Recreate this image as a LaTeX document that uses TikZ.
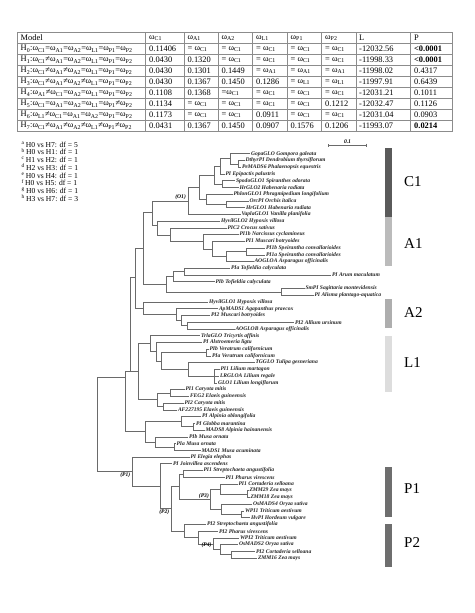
\documentclass[tikz,border=0pt]{standalone}
\usepackage{fontspec}
\setmainfont{Liberation Serif}
\usetikzlibrary{arrows.meta,positioning}
\definecolor{TreeGray}{HTML}{6A6A6A}
\definecolor{RuleGray}{HTML}{8C8C8C}
\definecolor{BarCone}{HTML}{5A5A5A}
\definecolor{BarAone}{HTML}{BBBBBB}
\definecolor{BarAtwo}{HTML}{AEAEAE}
\definecolor{BarLone}{HTML}{DDDDDD}
\definecolor{BarP}{HTML}{6E6E6E}
\newcommand{\om}[1]{ω\textsubscript{#1}}
\tikzset{
  leaf/.style={
    anchor=west,
    inner sep=0.8pt,
    font=\fontsize{5.6}{6}\selectfont\bfseries\itshape,
    text=black!85
  },
  branch/.style={
    draw=TreeGray,
    line width=0.55pt
  },
  cell/.style={
    anchor=west,
    inner sep=0pt,
    font=\fontsize{8.4}{9}\selectfont
  },
  tablerule/.style={
    draw=RuleGray,
    line width=0.7pt
  },
  note/.style={
    anchor=west,
    inner sep=0pt,
    font=\fontsize{7.6}{8}\selectfont
  },
  clade/.style={
    anchor=west,
    inner sep=0pt,
    font=\fontsize{15}{15}\selectfont
  },
  nodelabel/.style={
    inner sep=0.4pt,
    font=\fontsize{5.6}{6}\selectfont\bfseries\itshape
  }
}

\begin{document}
\begin{tikzpicture}[x=1pt,y=-1pt]

  \fill[white] (0,0) rectangle (474,613);
  \useasboundingbox (0,0) rectangle (474,613);

  % table
  \draw[tablerule] (17.3,32) rectangle (452.7,131);
  \foreach \yr in {43,54,...,120} {
    \draw[tablerule] (17.3,\yr) -- (452.7,\yr);
  }
  \foreach \xc in {145.7,184.3,218.3,252.7,287.3,321.7,356,410.7} {
    \draw[tablerule] (\xc,32) -- (\xc,131);
  }

  \node[cell] (headModel) at (20.5,37.8) {Model};
  \node[cell] (headC) at (149,37.8) {\om{C1}};
  \node[cell] (headA) at (187.5,37.8) {\om{A1}};
  \node[cell] (headB) at (221.5,37.8) {\om{A2}};
  \node[cell] (headL) at (256,37.8) {\om{L1}};
  \node[cell] (headP) at (290.5,37.8) {\om{P1}};
  \node[cell] (headQ) at (325,37.8) {\om{P2}};
  \node[cell] (headLnl) at (359,37.8) {L};
  \node[cell] (headPval) at (414,37.8) {P};

  \foreach \mdl/\wA/\wB/\wC/\wD/\wE/\wF/\lnl/\pval [count=\r] in {
    {H\textsubscript{0}:\om{C1}=\om{A1}=\om{A2}=\om{L1}=\om{P1}=\om{P2}}/0.11406/{= \om{C1}}/{= \om{C1}}/{= \om{C1}}/{= \om{C1}}/{= \om{C1}}/-12032.56/{\textbf{<0.0001}},
    {H\textsubscript{1}:\om{C1}≠\om{A1}=\om{A2}=\om{L1}=\om{P1}=\om{P2}}/0.0430/0.1320/{= \om{C1}}/{= \om{C1}}/{= \om{C1}}/{= \om{C1}}/-11998.33/{\textbf{<0.0001}},
    {H\textsubscript{2}:\om{C1}≠\om{A1}≠\om{A2}=\om{L1}=\om{P1}=\om{P2}}/0.0430/0.1301/0.1449/{= \om{A1}}/{= \om{A1}}/{= \om{A1}}/-11998.02/0.4317,
    {H\textsubscript{3}:\om{C1}≠\om{A1}≠\om{A2}≠\om{L1}=\om{P1}=\om{P2}}/0.0430/0.1367/0.1450/0.1286/{= \om{L1}}/{= \om{L1}}/-11997.91/0.6439,
    {H\textsubscript{4}:\om{A1}≠\om{C1}=\om{A2}=\om{L1}=\om{P1}=\om{P2}}/0.1108/0.1368/{=\om{C1}}/{= \om{C1}}/{= \om{C1}}/{= \om{C1}}/-12031.21/0.1011,
    {H\textsubscript{5}:\om{C1}=\om{A1}=\om{A2}=\om{L1}=\om{P1}≠\om{P2}}/0.1134/{= \om{C1}}/{= \om{C1}}/{= \om{C1}}/{= \om{C1}}/0.1212/-12032.47/0.1126,
    {H\textsubscript{6}:\om{L1}≠\om{C1}=\om{A1}=\om{A2}=\om{P1}=\om{P2}}/0.1173/{= \om{C1}}/{= \om{C1}}/0.0911/{= \om{C1}}/{= \om{C1}}/-12031.04/0.0903,
    {H\textsubscript{7}:\om{C1}≠\om{A1}≠\om{A2}≠\om{L1}≠\om{P1}≠\om{P2}}/0.0431/0.1367/0.1450/0.0907/0.1576/0.1206/-11993.07/{\textbf{0.0214}}} {
    \node[cell] (model\r) at (20.5,{37.8+11*\r}) {\mdl};
    \node[cell] (wc\r) at (149,{37.8+11*\r}) {\wA};
    \node[cell] (wa\r) at (187.5,{37.8+11*\r}) {\wB};
    \node[cell] (wb\r) at (221.5,{37.8+11*\r}) {\wC};
    \node[cell] (wl\r) at (256,{37.8+11*\r}) {\wD};
    \node[cell] (wp\r) at (290.5,{37.8+11*\r}) {\wE};
    \node[cell] (wq\r) at (325,{37.8+11*\r}) {\wF};
    \node[cell] (lnl\r) at (359,{37.8+11*\r}) {\lnl};
    \node[cell] (pval\r) at (414,{37.8+11*\r}) {\pval};
  }

  % test notes
  \foreach \lt/\txt [count=\n from 0] in {
    a/H0 vs H7: df = 5,
    b/H0 vs H1: df = 1,
    c/H1 vs H2: df = 1,
    d/H2 vs H3: df = 1,
    e/H0 vs H4: df = 1,
    f/H0 vs H5: df = 1,
    g/H0 vs H6: df = 1,
    h/H3 vs H7: df = 3} {
    \node[note] (note\lt) at (21.5,{144.6+7.75*\n}) {\smash{\textsuperscript{\lt}}\,\txt};
  }

  % leaves
  \foreach \name/\tip/\txt [count=\i from 0] in {
    gopa/250/GopaGLO Gompora galeata,
    dthyr/244.5/DthyrPI Dendrobium thyrsiflorum,
    pemads/241/PeMADS6 Phalaenopsis equestris,
    epip/224.5/PI Epipactis palustris,
    spodo/235/SpodoGLO1 Spiranthes odorata,
    hrglotwo/238.5/HrGLO2 Habenaria radiata,
    phlon/232.5/PhlonGLO1 Phragmipedium longifolium,
    orcpi/248.5/OrcPI Orchis italica,
    hrgloone/245/HrGLO1 Habenaria radiata,
    vapla/240.5/VaplaGLO1 Vanilla planifolia,
    hyviltwo/220/HyvilGLO2 Hypoxis villosa,
    crocus/226.5/PIC2 Crocus sativus,
    narc/238.5/PI1b Narcissus cyclamineus,
    muscone/244.5/PI1 Muscari botryoides,
    speirb/265/PI1b Speirantha convallarioides,
    speira/265/PI1a Speirantha convallarioides,
    aogloa/253.5/AOGLOA Asparagus officinalis,
    tofa/230/PIa Tofieldia calyculata,
    arum/331/PI Arum maculatum,
    tofb/214.5/PIb Tofieldia calyculata,
    smpi/304.5/SmPI Sagittaria montevidensis,
    alisma/313.5/PI Alisma plantago-aquatica,
    hyvilone/208/HyvilGLO1 Hypoxis villosa,
    apmads/218/ApMADS1 Agapanthus praecox,
    musctwo/210/PI2 Muscari botryoides,
    allium/294/PI2 Allium ursinum,
    aoglob/234.5/AOGLOB Asparagus officinalis,
    trla/200/TrlaGLO Tricyrtis affinis,
    alst/202/PI Alstroemeria ligtu,
    verb/208.5/PIb Veratrum californicum,
    vera/211/PIa Veratrum californicum,
    tgglo/254.5/TGGLO Tulipa gesneriana,
    lilone/219.5/PI1 Lilium martagon,
    lrgloa/219/LRGLOA Lilium regale,
    glo/217/GLO1 Lilium longiflorum,
    carone/184.5/PI1 Caryota mitis,
    feg/189/FEG2 Elaeis guineensis,
    cartwo/183.5/PI2 Caryota mitis,
    afel/177/AF227195 Elaeis guineensis,
    alpob/201/PI Alpinia oblongifolia,
    globba/195/PI Globba marantina,
    madseight/204.5/MADS8 Alpinia hainanensis,
    musab/188/PIb Musa ornata,
    musaa/175.5/PIa Musa ornata,
    madsone/200.5/MADS1 Musa acuminata,
    elegia/189.5/PI Elegia elephas,
    joinv/172/PI Joinvillea ascendens,
    strepone/202.5/PI1 Streptochaeta angustifolia,
    pharone/224.5/PI1 Pharus virescens,
    cortone/237.5/PI1 Cortaderia selloana,
    zmmtn/248.5/ZMM29 Zea mays,
    zmmet/249.5/ZMM18 Zea mays,
    osfour/252/OsMADS4 Oryza sativa,
    wpione/244/WPI1 Triticum aestivum,
    hvpi/250/HvPI Hordeum vulgare,
    streptwo/206/PI2 Streptochaeta angustifolia,
    phartwo/218/PI2 Pharus virescens,
    wpitwo/239/WPI2 Triticum aestivum,
    ostwo/238/OsMADS2 Oryza sativa,
    corttwo/255/PI2 Cortaderia selloana,
    zmmsx/257/ZMM16 Zea mays} {
    \node[leaf] (\name) at (\tip,{153.7+6.74*\i}) {\txt};
  }

  % internal nodes
  \coordinate (ndth) at (238,163.81);
  \coordinate (ngopa) at (230,158.76);
  \coordinate (nepi) at (220,166.34);
  \coordinate (nspo) at (222,184.03);
  \coordinate (norchid) at (214,175.19);
  \coordinate (norc) at (226,204.25);
  \coordinate (nphl) at (206,199.20);
  \coordinate (nq) at (199,187.20);
  \coordinate (oone) at (188,200.78);
  \coordinate (nspe) at (246,251.43);
  \coordinate (naso) at (226,256.49);
  \coordinate (nmus) at (212.7,248.90);
  \coordinate (nnar) at (203.3,241.74);
  \coordinate (ncro) at (170,234.79);
  \coordinate (nhyp) at (157,225.5);
  \coordinate (nco) at (152,212);
  \coordinate (ntof) at (184.3,271.65);
  \coordinate (ntofb) at (173.3,276.71);
  \coordinate (nsag) at (281.7,291.87);
  \coordinate (nalis) at (166.7,284.29);
  \coordinate (nh) at (143.3,248);
  \coordinate (nalli) at (187.7,325.57);
  \coordinate (nmust) at (181,320.52);
  \coordinate (naga) at (176,314.62);
  \coordinate (natwo) at (143.3,308.30);
  \coordinate (ng) at (135.7,277);
  \coordinate (ntri) at (150,343.7);
  \coordinate (nalst) at (156.7,351.69);
  \coordinate (nver) at (206.7,352.53);
  \coordinate (nlil) at (214.5,376.12);
  \coordinate (ntul) at (188.3,369.38);
  \coordinate (nlv) at (161.7,360.96);
  \coordinate (ncara) at (170,392.97);
  \coordinate (ncarb) at (163.3,406.45);
  \coordinate (narec) at (157,399.71);
  \coordinate (nla) at (138.3,371.7);
  \coordinate (ngg) at (130.7,371.7);
  \coordinate (nglo) at (193.3,426.67);
  \coordinate (nalp) at (181.7,421.62);
  \coordinate (nmusa) at (174,446.89);
  \coordinate (nmusb) at (155,441.84);
  \coordinate (nzin) at (145,431.73);
  \coordinate (nu) at (125,377.7);
  \coordinate (nwpi) at (241,514.29);
  \coordinate (nosf) at (221.7,509.24);
  \coordinate (nzmm) at (247.7,494.07);
  \coordinate (ncort) at (220,489.02);
  \coordinate (pthree) at (210.7,499.13);
  \coordinate (nstr) at (183,473.85);
  \coordinate (npone) at (179,486.49);
  \coordinate (nzmmb) at (231.7,554.73);
  \coordinate (nost) at (220,549.68);
  \coordinate (pfour) at (213.3,543.78);
  \coordinate (nphar) at (198.3,537.46);
  \coordinate (nptwo) at (184.3,530.93);
  \coordinate (ptwo) at (171,508.71);
  \coordinate (njoin) at (160.7,486.23);
  \coordinate (pone) at (132.3,471.62);
  \coordinate (nroot) at (97.7,424.66);

  % branches
  \foreach \p/\c in {
    ndth/dthyr, ndth/pemads, ngopa/gopa, ngopa/ndth,
    nepi/ngopa, nepi/epip, nspo/spodo, nspo/hrglotwo,
    norchid/nepi, norchid/nspo, norc/orcpi, norc/hrgloone,
    nphl/phlon, nphl/norc, nq/norchid, nq/nphl,
    oone/nq, oone/vapla,
    nspe/speirb, nspe/speira, naso/nspe, naso/aogloa,
    nmus/muscone, nmus/naso, nnar/narc, nnar/nmus,
    ncro/crocus, ncro/nnar, nhyp/hyviltwo, nhyp/ncro,
    nco/oone, nco/nhyp,
    ntof/tofa, ntof/arum, ntofb/ntof, ntofb/tofb,
    nsag/smpi, nsag/alisma, nalis/ntofb, nalis/nsag,
    nh/nco, nh/nalis,
    nalli/allium, nalli/aoglob, nmust/musctwo, nmust/nalli,
    naga/apmads, naga/nmust, natwo/hyvilone, natwo/naga,
    ng/nh, ng/natwo,
    nver/verb, nver/vera,
    nlil/lilone, nlil/lrgloa, nlil/glo, ntul/tgglo, ntul/nlil,
    nlv/nver, nlv/ntul, nalst/alst, nalst/nlv,
    ntri/trla, ntri/nalst,
    ncara/carone, ncara/feg, ncarb/cartwo, ncarb/afel,
    narec/ncara, narec/ncarb, nla/ntri, nla/narec,
    ngg/ng, ngg/nla,
    nglo/globba, nglo/madseight, nalp/alpob, nalp/nglo,
    nmusa/musaa, nmusa/madsone, nmusb/musab, nmusb/nmusa,
    nzin/nalp, nzin/nmusb, nu/ngg, nu/nzin,
    nwpi/wpione, nwpi/hvpi, nosf/osfour, nosf/nwpi,
    nzmm/zmmtn, nzmm/zmmet, ncort/cortone, ncort/nzmm,
    pthree/ncort, pthree/nosf, nstr/strepone, nstr/pharone,
    npone/nstr, npone/pthree,
    nzmmb/corttwo, nzmmb/zmmsx, nost/ostwo, nost/nzmmb,
    pfour/wpitwo, pfour/nost, nphar/phartwo, nphar/pfour,
    nptwo/streptwo, nptwo/nphar, ptwo/npone, ptwo/nptwo,
    njoin/joinv, njoin/ptwo, pone/elegia, pone/njoin,
    nroot/nu, nroot/pone} {
    \draw[branch] (\p) |- (\c);
  }

  % node labels
  \node[nodelabel, above left=0.3pt and 1.5pt of oone] (labOone) {(O1)};
  \node[nodelabel, below left=0.6pt and 1.5pt of pone] (labPone) {(P1)};
  \node[nodelabel, below left=0.6pt and 1.2pt of ptwo] (labPtwo) {(P2)};
  \node[nodelabel, above left=0.3pt and 1.2pt of pthree] (labPthree) {(P3)};
  \node[nodelabel, below left=-2pt and 1.2pt of pfour] (labPfour) {(P4)};

  % scale bar
  \coordinate (scaleL) at (328,145);
  \coordinate (scaleR) at (367,145);
  \draw[branch, {Bar[width=3pt]}-{Bar[width=3pt]}] (scaleL) -- (scaleR)
    node[midway, above=0.8pt, nodelabel] (scaleLab) {0.1};

  % clade bars
  \fill[BarCone] (385,148) rectangle (392,217);
  \fill[BarAone] (385,217) rectangle (392,266);
  \fill[BarAtwo] (385,299) rectangle (392,328);
  \fill[BarLone] (385,336) rectangle (392,392);
  \fill[BarP] (385,467) rectangle (392,517);
  \fill[BarP] (385,524) rectangle (392,567);

  \node[clade] (cladeCone) at (404,182) {C1};
  \node[clade] (cladeAone) at (404,244) {A1};
  \node[clade] (cladeAtwo) at (404,313) {A2};
  \node[clade] (cladeLone) at (404,363) {L1};
  \node[clade] (cladePone) at (404,488.5) {P1};
  \node[clade] (cladePtwo) at (404,543) {P2};

\end{tikzpicture}
\end{document}
